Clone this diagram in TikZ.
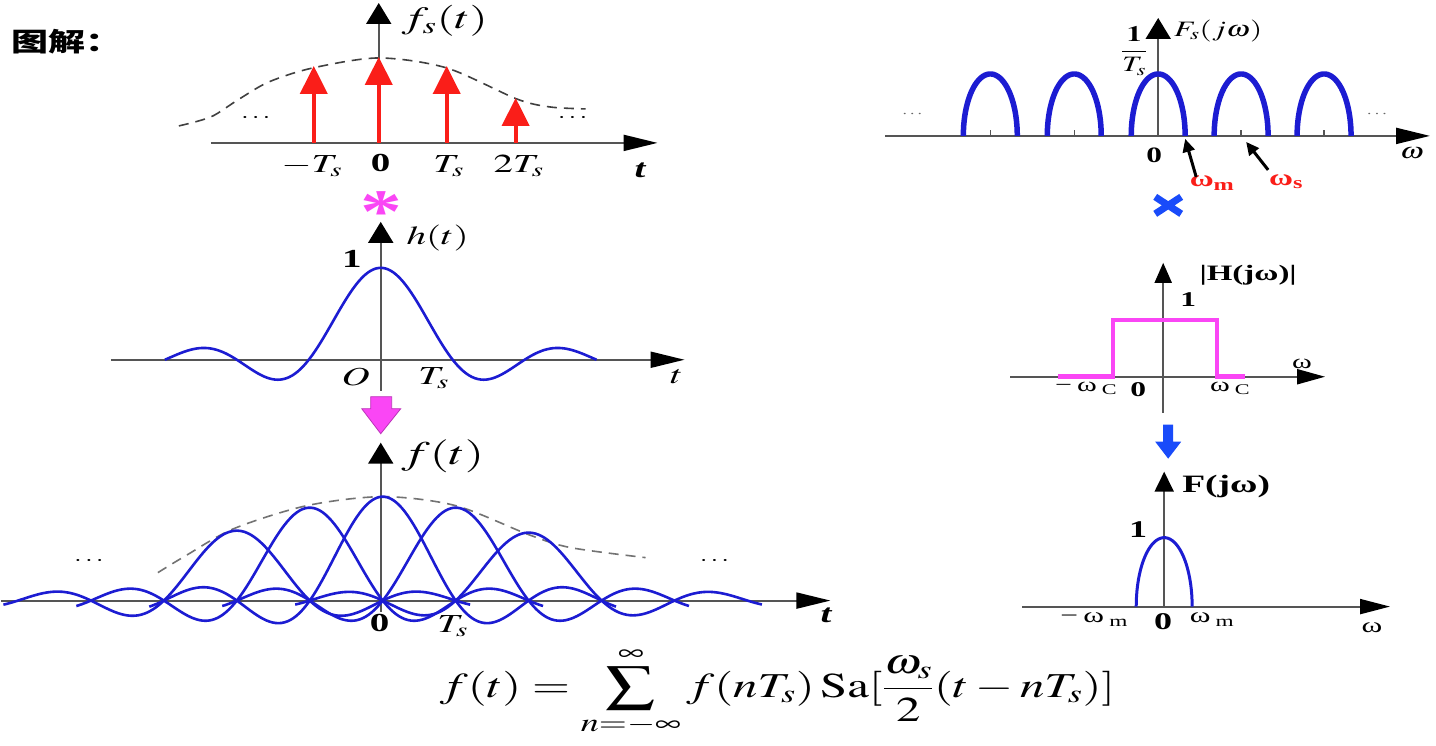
\documentclass[tikz,border=0pt]{standalone}
\usepackage{mathptmx}
\usepackage{fontspec}
\setmainfont{Liberation Serif}
\newfontfamily\cjk{Noto Sans CJK SC}
\usetikzlibrary{arrows.meta, positioning}
\definecolor{sigblue}{RGB}{28,28,210}
\definecolor{combred}{RGB}{250,30,25}
\definecolor{filtmag}{RGB}{250,70,245}
\definecolor{axisgray}{RGB}{85,85,85}
\definecolor{opblue}{RGB}{25,75,250}

\begin{document}
\begin{tikzpicture}[
    x=1pt, y=-1pt,
    declare function={sinc(\u)=sin(180*\u)/(pi*\u);},
    haxis/.style={draw=axisgray, line width=2pt, -{Triangle[length=34pt, width=16pt, color=black]}},
    vaxis/.style={draw=axisgray, line width=2pt, -{Triangle[length=21pt, width=25pt, color=black]}},
    sample/.style={combred, line width=4pt, -{Triangle[length=28pt, width=27pt]}},
    envelope/.style={draw=black!75, line width=1.6pt, dash pattern=on 10pt off 7pt},
    sincline/.style={sigblue, line width=2.6pt},
    spec/.style={sigblue, line width=5.5pt},
    pointer/.style={black, line width=3pt, -{Triangle[length=13pt, width=12pt]}},
    lbl/.style={inner sep=0pt, xscale=1.5, font=\fontsize{26}{30}\selectfont},
    big/.style={lbl, font=\fontsize{31}{34}\selectfont},
    small/.style={lbl, font=\fontsize{20}{22}\selectfont},
    dots/.style={inner sep=0pt, xscale=1.4, font=\fontsize{20}{22}\selectfont}
]
    \fill[white] (0,0) rectangle (1436,746);

    % Sampled signal f_s(t)
    \node[lbl, xscale=0.95, font=\cjk\bfseries\fontsize{26}{28}\selectfont] (title) at (66,42) {图解：};
    \draw[envelope] plot[smooth] coordinates {(178,126) (210,117) (237,100) (268,82) (312,68) (378,58) (446,68) (516,99) (549,107) (585,109)};
    \draw[haxis] (210,143) -- (657,143);
    \draw[vaxis] (378,143) -- (378,3);
    \foreach \xs/\ys in {313/66, 378/57, 446/66, 515/98}
        \draw[sample] (\xs,143) -- (\xs,\ys);
    \node[big] (fs-lbl) at (444,21) {$f_s(t)$};
    \node[dots] (fs-ldots) at (255,118) {$\cdots$};
    \node[dots] (fs-rdots) at (572,118) {$\cdots$};
    \node[lbl] (fs-m1) at (311,166) {$-T_s$};
    \node[lbl] (fs-0) at (380,163) {\textbf{0}};
    \node[lbl] (fs-1) at (448,166) {$T_s$};
    \node[lbl] (fs-2) at (518,166) {$2T_s$};
    \node[lbl] (fs-t) at (640,170) {\textbf{\textit{t}}};

    % Convolution sign
    \node[lbl, xscale=0.9, font=\bfseries\fontsize{62}{62}\selectfont, text=filtmag] (conv) at (381,212) {*};

    % Filter h(t)
    \draw[haxis] (110,360) -- (684,360);
    \draw[vaxis] (380,391) -- (380,222);
    \draw[sincline] plot[domain=-3:3, samples=150] ({380+72*\x},{360-92*sinc(\x)});
    \node[lbl] (h-lbl) at (437,238) {$h(t)$};
    \node[lbl] (h-one) at (351,259) {\textbf{1}};
    \node[lbl] (h-o) at (355,377) {$O$};
    \node[lbl] (h-ts) at (433,378) {$T_s$};
    \node[lbl] (h-t) at (676,377) {$t$};

    % Result arrow
    \fill[filtmag, draw=filtmag!75!black, line width=0.8pt] (370,397) -- (391,397) -- (391,409) -- (400,409) -- (380,434) -- (361,409) -- (370,409) -- cycle;

    % Reconstructed f(t)
    \draw[haxis] (0,601) -- (830,601);
    \draw[vaxis] (380,612) -- (380,443);
    \draw[envelope, draw=black!55] plot[smooth] coordinates {(157,573) (185,556) (233,529) (306,506) (382,497) (455,506) (528,535) (570,548) (645,558)};
    \begin{scope}
        \clip (0,430) rectangle (780,650);
        \foreach \n/\amp in {-2/70, -1/93, 0/104, 1/93, 2/68}
            \draw[sincline] plot[domain=-3.2:3.2, samples=160] ({382+73*\n+73*\x},{601-\amp*sinc(\x)});
    \end{scope}
    \node[big, font=\fontsize{33}{36}\selectfont] (f-lbl) at (442,457) {$f(t)$};
    \node[dots] (f-ldots) at (88,562) {$\cdots$};
    \node[dots] (f-rdots) at (714,562) {$\cdots$};
    \node[lbl] (f-0) at (379,623) {\textbf{0}};
    \node[lbl] (f-ts) at (452,627) {$T_s$};
    \node[lbl] (f-t) at (826,616) {\textbf{\textit{t}}};

    % Interpolation formula
    \node[lbl, xscale=0.93, font=\fontsize{35}{38}\selectfont] (formula) at (777,692) {$\displaystyle f(t)=\sum_{n=-\infty}^{\infty} f(nT_s)\,\mathrm{Sa}[\frac{\omega_s}{2}(t-nT_s)]$};

    % Spectrum F_s(jw)
    \draw[haxis] (885,136) -- (1430,136);
    \draw[vaxis] (1158,136) -- (1158,18);
    \foreach \c in {990,1074,1241,1324}
        \draw[axisgray, line width=1.5pt] (\c,136) -- (\c,130);
    \foreach \c in {990,1074,1158,1241,1324}
        \draw[spec] plot[domain=180:0, samples=40] ({\c+27*cos(\x)},{136-62*sin(\x)});
    \node[lbl, xscale=0.95, font=\fontsize{22}{24}\selectfont] (Fs-lbl) at (1218,31) {$F_s(j\omega)$};
    \node[lbl, xscale=0.9, font=\fontsize{22}{24}\selectfont] (Fs-amp) at (1134,51) {$\displaystyle\frac{\mathbf{1}}{T_s}$};
    \node[dots, text=black!60, font=\fontsize{14}{16}\selectfont] (Fs-ldots) at (912,115) {$\cdots$};
    \node[dots, text=black!60, font=\fontsize{14}{16}\selectfont] (Fs-rdots) at (1377,115) {$\cdots$};
    \node[lbl, xscale=0.95, font=\fontsize{22}{24}\selectfont] (Fs-0) at (1154,155) {\textbf{0}};
    \node[lbl, xscale=0.95, font=\fontsize{22}{24}\selectfont] (Fs-w) at (1412,153) {$\omega$};
    \node[lbl, xscale=0.95, font=\bfseries\fontsize{23}{26}\selectfont, text=combred] (wm-lbl) at (1212,183) {ω\textsubscript{m}};
    \node[lbl, xscale=0.95, font=\bfseries\fontsize{23}{26}\selectfont, text=combred] (ws-lbl) at (1286,182) {ω\textsubscript{s}};
    \coordinate (wm-tail) at (1196,177);
    \coordinate (wm-tip) at (1185,139);
    \coordinate (ws-tail) at (1268,170);
    \coordinate (ws-tip) at (1246,142);
    \draw[pointer] (wm-tail) -- (wm-tip);
    \draw[pointer] (ws-tail) -- (ws-tip);

    % Multiplication sign
    \draw[opblue, line width=7pt] (1155,197) -- (1181,214) (1155,214) -- (1181,197);

    % Ideal low-pass |H(jw)|
    \draw[haxis, -{Triangle[length=28pt, width=15pt, color=black]}] (1010,377) -- (1325,377);
    \draw[vaxis, -{Triangle[length=20pt, width=17pt, color=black]}] (1163,413) -- (1163,263);
    \draw[filtmag, line width=4.5pt] (1058,377) -- (1113,377) -- (1113,320) -- (1217,320) -- (1217,377) -- (1245,377);
    \node[small, font=\bfseries\fontsize{22}{24}\selectfont] (H-lbl) at (1248,275) {|H(jω)|};
    \node[small, font=\bfseries\fontsize{21}{22}\selectfont] (H-one) at (1188,300) {1};
    \node[small] (H-m) at (1086,389) {−\,ω\,\textsubscript{C}};
    \node[small, font=\bfseries\fontsize{21}{22}\selectfont] (H-0) at (1138,390) {0};
    \node[small] (H-p) at (1230,389) {ω\,\textsubscript{C}};
    \node[small] (H-w) at (1302,364) {ω};

    % Output arrow
    \fill[opblue] (1163,425) -- (1173,425) -- (1173,442) -- (1181,442) -- (1168,459) -- (1155,442) -- (1163,442) -- cycle;

    % Recovered spectrum F(jw)
    \draw[haxis, -{Triangle[length=30pt, width=15pt, color=black]}] (1022,607) -- (1390,607);
    \draw[vaxis, -{Triangle[length=20pt, width=19pt, color=black]}] (1164,607) -- (1164,472);
    \draw[sigblue, line width=3pt] plot[domain=180:0, samples=40] ({1164+28*cos(\x)},{607-69*sin(\x)});
    \node[lbl, font=\bfseries\fontsize{25}{28}\selectfont] (F-lbl) at (1226,487) {F(jω)};
    \node[lbl, font=\bfseries\fontsize{24}{26}\selectfont] (F-one) at (1138,530) {1};
    \node[small, font=\fontsize{21}{24}\selectfont] (F-m) at (1094,620) {−\,ω\,\textsubscript{m}};
    \node[lbl, font=\bfseries\fontsize{24}{26}\selectfont] (F-0) at (1163,622) {0};
    \node[small, font=\fontsize{21}{24}\selectfont] (F-p) at (1212,620) {ω\,\textsubscript{m}};
    \node[small, font=\fontsize{21}{24}\selectfont] (F-w) at (1372,628) {ω};
\end{tikzpicture}
\end{document}
